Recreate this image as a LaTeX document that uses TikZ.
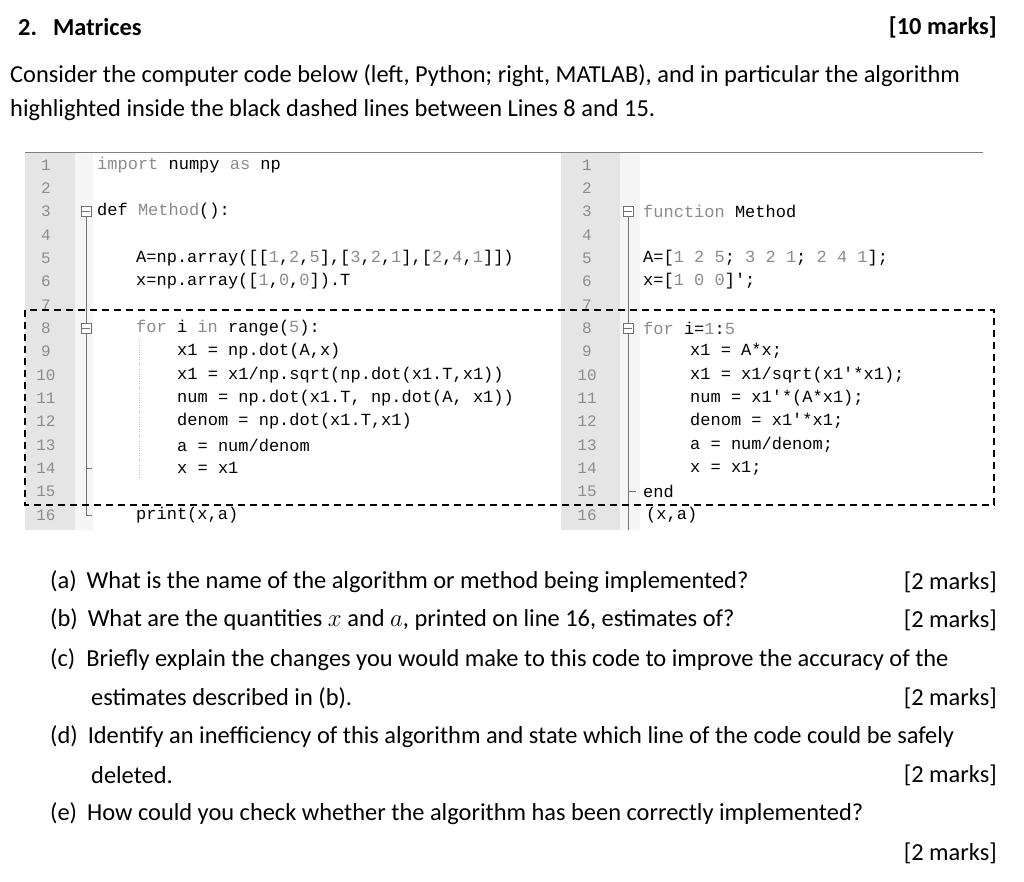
\documentclass[tikz,border=0pt]{standalone}
\usepackage{fontspec}
\setmainfont{Carlito}
\setmonofont{Liberation Mono}
\begin{document}
\begin{tikzpicture}[x=1pt,y=-1pt,
  txt/.style={anchor=west,inner sep=0pt,font=\fontsize{24.4}{28}\selectfont},
  mk/.style={anchor=east,inner sep=0pt,font=\fontsize{24.4}{28}\selectfont},
  cd/.style={anchor=west,inner sep=0pt,font=\ttfamily\fontsize{17}{19}\selectfont,text=black},
  ln/.style={anchor=center,inner sep=0pt,font=\ttfamily\fontsize{16}{18}\selectfont,text=black!45},
  fold/.style={draw=black!55,fill=white,minimum size=10pt,inner sep=0pt,line width=0.6pt},
  gl/.style={draw=black!55,line width=0.6pt}]
\newcommand{\g}[1]{\textcolor{black!45}{#1}}
\useasboundingbox (0,0) rectangle (1024,881);
\fill[white] (0,0) rectangle (1024,881);
% header
\node[txt,font=\bfseries\fontsize{24.4}{28}\selectfont] (title) at (18,27) {2.\hspace{16pt}Matrices};
\node[mk,font=\bfseries\fontsize{24.4}{28}\selectfont] (marks) at (997,27) {[10 marks]};
\node[txt] (i1) at (10,76) {Consider the computer code below (left, Python; right, MATLAB), and in particular the algorithm};
\node[txt] (i2) at (10,110) {highlighted inside the black dashed lines between Lines 8 and 15.};
% panel
\fill[black!10] (25,152) rectangle (75,530);
\fill[black!4] (75,152) rectangle (93,530);
\fill[black!10] (561,152) rectangle (620,530);
\fill[black!4] (620,152) rectangle (640,530);
\draw[black!50,line width=1pt] (25,152) -- (983,152);
\foreach \i in {1,...,16}{
  \node[ln] (l\i) at (46,165+23.33*\i-23.33) {\i};
  \node[ln] (r\i) at (587,165+23.33*\i-23.33) {\i};
}
% fold lines left
\draw[gl] (86,211) -- (86,515) -- (92,515);
\draw[gl] (86,468) -- (92,468);
\node[fold] (fl3) at (86,211) {};
\node[fold] (fl8) at (86,328) {};
\draw[gl] (82,211) -- (90,211); \draw[gl] (82,328) -- (90,328);
\draw[black!25,dotted] (139,340) -- (139,478);
% fold lines right
\draw[gl] (628,211) -- (628,530);
\draw[gl] (628,491) -- (636,491);
\node[fold] (fr3) at (628,211) {};
\node[fold] (fr8) at (628,328) {};
\draw[gl] (624,211) -- (632,211); \draw[gl] (624,328) -- (632,328);
% python code
\node[cd] (p1) at (97,165) {\g{import} numpy \g{as} np};
\node[cd] (p3) at (97,211) {def \g{Method}():};
\node[cd] (p5) at (136,258) {A=np.array([[\g{1},\g{2},\g{5}],[\g{3},\g{2},\g{1}],[\g{2},\g{4},\g{1}]])};
\node[cd] (p6) at (136,281) {x=np.array([\g{1},\g{0},\g{0}]).T};
\node[cd] (p8) at (136,328) {\g{for} i \g{in} range(\g{5}):};
\node[cd] (p9) at (177,351) {x1 = np.dot(A,x)};
\node[cd] (p10) at (177,375) {x1 = x1/np.sqrt(np.dot(x1.T,x1))};
\node[cd] (p11) at (177,398) {num = np.dot(x1.T, np.dot(A, x1))};
\node[cd] (p12) at (177,421) {denom = np.dot(x1.T,x1)};
\node[cd] (p13) at (177,445) {a = num/denom};
\node[cd] (p14) at (177,468) {x = x1};
\node[cd] (p16) at (136,515) {print(x,a)};
% matlab code
\node[cd] (m3) at (643,211) {\g{function} Method};
\node[cd] (m5) at (643,258) {A=[\g{1} \g{2} \g{5}; \g{3} \g{2} \g{1}; \g{2} \g{4} \g{1}];};
\node[cd] (m6) at (643,281) {x=[\g{1} \g{0} \g{0}]';};
\node[cd] (m8) at (643,328) {\g{for} i=\g{1}:\g{5}};
\node[cd] (m9) at (690,351) {x1 = A*x;};
\node[cd] (m10) at (690,375) {x1 = x1/sqrt(x1'*x1);};
\node[cd] (m11) at (690,398) {num = x1'*(A*x1);};
\node[cd] (m12) at (690,421) {denom = x1'*x1;};
\node[cd] (m13) at (690,445) {a = num/denom;};
\node[cd] (m14) at (690,468) {x = x1;};
\node[cd] (m15) at (643,491) {end};
\node[cd] (m16) at (646,515) {(x,a)};
% dashed box
\draw[dashed,line width=1.6pt,dash pattern=on 7pt off 5pt] (25,310) rectangle (994,505);
% questions
\node[txt] (qa) at (50,582) {(a)\hspace{10pt}What is the name of the algorithm or method being implemented?};
\node[mk] (ma) at (997,582) {[2 marks]};
\node[txt] (qb) at (50,620) {(b)\hspace{10pt}What are the quantities $x$ and $a$, printed on line 16, estimates of?};
\node[mk] (mb) at (997,620) {[2 marks]};
\node[txt] (qc) at (50,660) {(c)\hspace{11pt}Briefly explain the changes you would make to this code to improve the accuracy of the};
\node[txt] (qc2) at (91,698) {estimates described in (b).};
\node[mk] (mc) at (997,698) {[2 marks]};
\node[txt] (qd) at (50,737) {(d)\hspace{10pt}Identify an inefficiency of this algorithm and state which line of the code could be safely};
\node[txt] (qd2) at (91,775) {deleted.};
\node[mk] (md) at (997,775) {[2 marks]};
\node[txt] (qe) at (50,814) {(e)\hspace{10pt}How could you check whether the algorithm has been correctly implemented?};
\node[mk] (me) at (997,853) {[2 marks]};
\end{tikzpicture}
\end{document}
